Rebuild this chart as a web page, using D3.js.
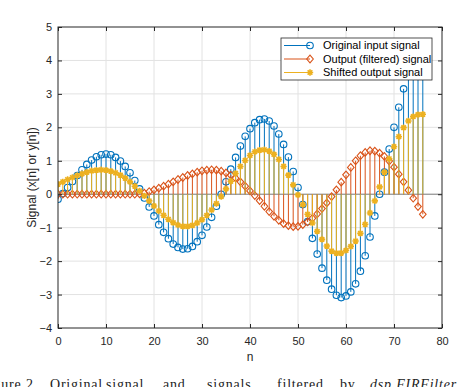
<!DOCTYPE html>
<html>
<head>
<meta charset="utf-8">
<script src="https://cdn.jsdelivr.net/npm/d3@7"></script>
<style>
  body { margin: 0; background: #fff; }
  svg { display: block; font-family: "Liberation Sans", Arial, Helvetica, sans-serif; }
  .axis text { font-size: 11px; fill: #262626; }
  .axis line { stroke: #262626; }
</style>
</head>
<body>
<div id="chart"></div>
<script>
// x[n] (n = 0 .. 76)
const inputSignal = [
  -0.15, 0.02, 0.20, 0.38, 0.56, 0.73, 0.89, 1.02, 1.12, 1.18,
  1.20, 1.18, 1.10, 0.99, 0.83, 0.64, 0.41, 0.16, -0.11, -0.38,
  -0.65, -0.91, -1.14, -1.33, -1.49, -1.59, -1.64, -1.63, -1.56, -1.42,
  -1.23, -0.98, -0.69, -0.36, 0.00, 0.37, 0.75, 1.10, 1.44, 1.73,
  1.96, 2.14, 2.23, 2.25, 2.19, 2.04, 1.80, 1.49, 1.11, 0.68,
  0.20, -0.31, -0.82, -1.32, -1.79, -2.21, -2.57, -2.84, -3.02, -3.09,
  -3.04, -2.92, -2.68, -2.30, -1.84, -1.28, -0.65, 0.00, 0.66, 1.35,
  2.00, 2.60, 3.15, 3.60, 3.95, 4.15, 4.25
];

// y[n], filter output
const filteredSignal = [
  0, 0, 0, 0, 0, 0, 0, 0, 0, 0,
  0, 0, 0, 0, 0, 0, 0, 0.01, 0.03, 0.08,
  0.13, 0.18, 0.24, 0.30, 0.37, 0.44, 0.50, 0.56, 0.61, 0.66,
  0.70, 0.72, 0.73, 0.72, 0.69, 0.64, 0.57, 0.48, 0.37, 0.24,
  0.10, -0.04, -0.19, -0.36, -0.52, -0.66, -0.78, -0.88, -0.94, -0.97,
  -0.96, -0.91, -0.83, -0.72, -0.59, -0.43, -0.26, -0.07, 0.13, 0.36,
  0.58, 0.80, 1.00, 1.15, 1.25, 1.30, 1.29, 1.23, 1.13, 0.99,
  0.81, 0.60, 0.37, 0.12, -0.12, -0.37, -0.60
];

// y[n] shifted back by the filter delay
const shiftedSignal = [
  0.30, 0.37, 0.44, 0.50, 0.56, 0.61, 0.66, 0.70, 0.72, 0.73,
  0.72, 0.69, 0.64, 0.57, 0.48, 0.37, 0.24, 0.10, -0.05, -0.20,
  -0.35, -0.50, -0.63, -0.75, -0.85, -0.92, -0.96, -0.96, -0.93, -0.86,
  -0.76, -0.63, -0.47, -0.28, -0.07, 0.16, 0.39, 0.62, 0.83, 1.01,
  1.16, 1.27, 1.32, 1.33, 1.29, 1.19, 1.04, 0.83, 0.57, 0.28,
  -0.02, -0.31, -0.60, -0.86, -1.11, -1.35, -1.55, -1.70, -1.76, -1.76,
  -1.68, -1.56, -1.40, -1.17, -0.90, -0.56, -0.20, 0.22, 0.66, 1.06,
  1.42, 1.72, 1.99, 2.19, 2.32, 2.38, 2.39
];

const xTickValues = [0, 10, 20, 30, 40, 50, 60, 70, 80];
const yTickValues = [-4, -3, -2, -1, 0, 1, 2, 3, 4, 5];
const seriesNames = ["Original input signal", "Output (filtered) signal", "Shifted output signal"];
const xLabel = "n";
const yLabel = "Signal (x[n] or y[n])";

const width = 474, height = 387;
const plot = {left: 58, right: 442, top: 27, bottom: 328};

const series = [
  {name: seriesNames[0], values: inputSignal, color: "#0072BD", marker: "circle"},
  {name: seriesNames[1], values: filteredSignal, color: "#D95319", marker: "diamond"},
  {name: seriesNames[2], values: shiftedSignal, color: "#EDB120", marker: "asterisk"}
];

const x = d3.scaleLinear().domain([0, 80]).range([plot.left, plot.right]);
const y = d3.scaleLinear().domain([-4, 5]).range([plot.bottom, plot.top]);

const svg = d3.select("#chart").append("svg")
  .attr("width", width)
  .attr("height", height);

svg.append("defs").append("clipPath")
  .attr("id", "plot-clip")
  .append("rect")
  .attr("x", plot.left)
  .attr("y", plot.top)
  .attr("width", plot.right - plot.left)
  .attr("height", plot.bottom - plot.top);

// grid
const grid = svg.append("g").attr("class", "grid");
grid.selectAll(".gx")
  .data(xTickValues.slice(1, -1))
  .enter().append("line")
  .attr("x1", d => x(d)).attr("x2", d => x(d))
  .attr("y1", plot.top).attr("y2", plot.bottom)
  .attr("stroke", "#e2e2e2").attr("stroke-width", 1);
grid.selectAll(".gy")
  .data(yTickValues.slice(1, -1))
  .enter().append("line")
  .attr("x1", plot.left).attr("x2", plot.right)
  .attr("y1", d => y(d)).attr("y2", d => y(d))
  .attr("stroke", "#e2e2e2").attr("stroke-width", 1);

// markers
function markerPath(type) {
  if (type === "diamond") return "M0,-3.8L3.3,0L0,3.8L-3.3,0Z";
  if (type === "asterisk") return "M-3.2,0L3.2,0M0,-3.2L0,3.2M-2.3,-2.3L2.3,2.3M-2.3,2.3L2.3,-2.3";
  return d3.symbol().type(d3.symbolCircle).size(34)();
}

const marks = svg.append("g").attr("clip-path", "url(#plot-clip)");

// stem baseline
marks.append("line")
  .attr("x1", plot.left).attr("x2", plot.right)
  .attr("y1", y(0)).attr("y2", y(0))
  .attr("stroke", "#6a6a6a").attr("stroke-width", 0.8);

series.forEach((s, index) => {
  const g = marks.append("g").attr("class", `series series-${index}`);

  g.selectAll(".stem")
    .data(s.values)
    .enter().append("line")
    .attr("class", "stem")
    .attr("x1", (d, i) => x(i)).attr("x2", (d, i) => x(i))
    .attr("y1", y(0)).attr("y2", d => y(d))
    .attr("stroke", s.color).attr("stroke-width", 1);

  g.selectAll(".mark")
    .data(s.values)
    .enter().append("path")
    .attr("class", "mark")
    .attr("transform", (d, i) => "translate(" + x(i) + "," + y(d) + ")")
    .attr("d", markerPath(s.marker))
    .attr("fill", "none")
    .attr("stroke", s.color)
    .attr("stroke-width", s.marker === "asterisk" ? 1.6 : 1.1);
});

// axes, ticks inward on all four sides
svg.append("g")
  .attr("class", "axis x")
  .attr("transform", "translate(0," + plot.bottom + ")")
  .call(d3.axisBottom(x).tickValues(xTickValues).tickSize(-4).tickPadding(9))
  .call(g => g.select(".domain").remove());
svg.append("g")
  .attr("class", "axis x-top")
  .attr("transform", "translate(0," + plot.top + ")")
  .call(d3.axisTop(x).tickValues(xTickValues).tickSize(-4).tickFormat(""))
  .call(g => g.select(".domain").remove());
svg.append("g")
  .attr("class", "axis y")
  .attr("transform", "translate(" + plot.left + ",0)")
  .call(d3.axisLeft(y).tickValues(yTickValues).tickSize(-4).tickPadding(6))
  .call(g => g.select(".domain").remove());
svg.append("g")
  .attr("class", "axis y-right")
  .attr("transform", "translate(" + plot.right + ",0)")
  .call(d3.axisRight(y).tickValues(yTickValues).tickSize(-4).tickFormat(""))
  .call(g => g.select(".domain").remove());

svg.append("rect")
  .attr("x", plot.left).attr("y", plot.top)
  .attr("width", plot.right - plot.left)
  .attr("height", plot.bottom - plot.top)
  .attr("fill", "none")
  .attr("stroke", "#262626").attr("stroke-width", 1);

// axis labels
svg.append("text")
  .attr("x", (plot.left + plot.right) / 2)
  .attr("y", 361)
  .attr("text-anchor", "middle")
  .attr("font-size", 12)
  .attr("fill", "#262626")
  .text(xLabel);
svg.append("text")
  .attr("transform", "translate(36," + ((plot.top + plot.bottom) / 2) + ") rotate(-90)")
  .attr("text-anchor", "middle")
  .attr("font-size", 12)
  .attr("fill", "#262626")
  .text(yLabel);

// legend
const legend = svg.append("g").attr("class", "legend");
legend.append("rect")
  .attr("x", 281).attr("y", 38)
  .attr("width", 151).attr("height", 42)
  .attr("fill", "#fff")
  .attr("stroke", "#262626").attr("stroke-width", 0.8);

series.forEach((s, i) => {
  const ly = 45.5 + i * 13.5;
  const row = legend.append("g").attr("transform", "translate(0," + ly + ")");
  row.append("line")
    .attr("x1", 284).attr("x2", 310)
    .attr("stroke", s.color).attr("stroke-width", 1);
  row.append("path")
    .attr("transform", "translate(310,0)")
    .attr("d", markerPath(s.marker))
    .attr("fill", "none")
    .attr("stroke", s.color)
    .attr("stroke-width", s.marker === "asterisk" ? 1.6 : 1.1);
  row.append("text")
    .attr("x", 323)
    .attr("dy", "0.35em")
    .attr("font-size", 11)
    .attr("fill", "#000")
    .text(s.name);
});

// figure caption (justified, letter-spaced line), cut by the bottom edge
const caption = svg.append("g")
  .attr("font-family", "'Liberation Serif', 'Times New Roman', serif")
  .attr("font-size", 14)
  .attr("letter-spacing", 0.8)
  .attr("fill", "#222");
caption.append("text").attr("x", 38).attr("y", 389).attr("text-anchor", "end").text("Figure 2.");
caption.append("text").attr("x", 50).attr("y", 389).text("Original");
caption.append("text").attr("x", 106).attr("y", 389).text("signal");
caption.append("text").attr("x", 163).attr("y", 389).text("and");
caption.append("text").attr("x", 207).attr("y", 389).text("signals");
caption.append("text").attr("x", 277).attr("y", 389).text("filtered");
caption.append("text").attr("x", 340).attr("y", 389).text("by");
caption.append("text").attr("x", 370).attr("y", 389).attr("font-style", "italic").text("dsp.FIRFilter");
</script>
</body>
</html>
